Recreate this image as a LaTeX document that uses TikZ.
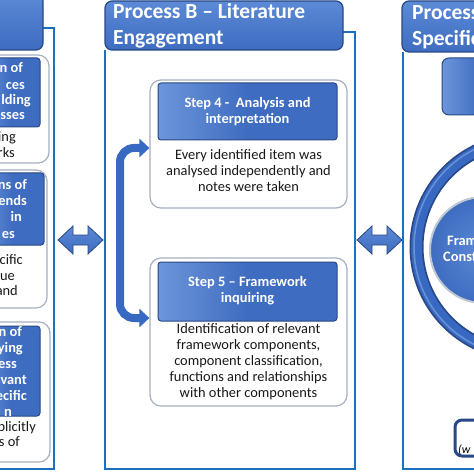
\documentclass[tikz,border=0pt]{standalone}
\usepackage{fontspec}
\setmainfont{Carlito}
\usetikzlibrary{arrows.meta,calc}
\definecolor{hblue}{RGB}{62,108,192}
\definecolor{hblueL}{RGB}{92,138,214}
\definecolor{hblueD}{RGB}{40,72,135}
\definecolor{frameblue}{RGB}{28,112,190}
\definecolor{boxgray}{RGB}{165,176,192}
\definecolor{ringblue}{RGB}{55,105,195}
\newcommand\DblArr[3]{%
  \draw[arrowshape] (#1,#3) -- ($(#1,#3)+(15,-14)$) -- ($(#1,#3)+(15,-5)$) -- ($(#2,#3)+(-15,-5)$) -- ($(#2,#3)+(-15,-14)$) -- (#2,#3) -- ($(#2,#3)+(-15,14)$) -- ($(#2,#3)+(-15,5)$) -- ($(#1,#3)+(15,5)$) -- ($(#1,#3)+(15,14)$) -- cycle;}
\begin{document}
\begin{tikzpicture}[x=1bp,y=-1bp,
  titlebox/.style={draw=hblueD, line width=1.2bp, rounded corners=7bp, top color=hblueL, bottom color=hblue},
  headbox/.style={draw=hblueD, line width=1bp, rounded corners=3bp, left color=hblueL!90!white, right color=hblue, middle color=hblue},
  stepbox/.style={draw=boxgray, line width=1.2bp, rounded corners=11bp, fill=white},
  frameline/.style={draw=frameblue, line width=2.8bp},
  arrowshape/.style={draw=hblueD, line width=0.8bp, top color=hblueL, bottom color=hblue},
  ttl/.style={font=\fontsize{21.5bp}{26bp}\selectfont\bfseries, text=white, align=left, inner sep=0pt},
  hd/.style={font=\fontsize{14.4bp}{16bp}\selectfont\bfseries, text=white, align=center, inner sep=0pt},
  bd/.style={font=\fontsize{14.4bp}{16bp}\selectfont, text=black!90, align=center, inner sep=0pt},
  hf/.style={font=\fontsize{14.4bp}{16bp}\selectfont\bfseries, text=white, inner sep=0pt, anchor=base east},
  bf/.style={font=\fontsize{14.4bp}{16bp}\selectfont, text=black!90, inner sep=0pt, anchor=base east},
  bracket/.style={draw=ringblue, line width=8bp, rounded corners=14bp, {Triangle[length=10bp,width=18bp]}-{Triangle[length=10bp,width=18bp]}}
]
\useasboundingbox (0,0) rectangle (474,474);
\clip (0,0) rectangle (474,474);
\fill[white] (0,0) rectangle (474,474);

% ---------------- left panel ----------------
\draw[frameline] (43,28) -- (54,28) -- (54,469) -- (-5,469);
\path[titlebox] (-20,-6) rectangle (43,50);
\path[stepbox] (-20,55) rectangle (49,163);
\path[headbox] (-20,58) rectangle (40,127);
\path[stepbox] (-20,170) rectangle (47,308);
\path[headbox] (-20,173) rectangle (44,245);
\path[stepbox] (-20,322) rectangle (50,462);
\path[headbox] (-20,326) rectangle (40,416);
\node[hf] (l1a) at (23,73) {n of};
\node[hf] (l1b) at (25,90) {ces};
\node[hf] (l1c) at (31,105) {lding};
\node[hf] (l1d) at (25,120) {sses};
\node[bf] (l1e) at (16,142) {ing};
\node[bf] (l1f) at (15,158) {rks};
\node[hf] (l2a) at (27,190) {ns of};
\node[hf] (l2b) at (27,206) {ends};
\node[hf] (l2c) at (22,222) {in};
\node[hf] (l2d) at (15,238) {es};
\node[bf] (l2e) at (23,264) {cific};
\node[bf] (l2f) at (15,280) {ue};
\node[bf] (l2g) at (18,295) {and};
\node[hf] (l3a) at (22,336) {n of};
\node[hf] (l3b) at (23,352) {ying};
\node[hf] (l3c) at (17,368) {ess};
\node[hf] (l3d) at (27,384) {vant};
\node[hf] (l3e) at (27,400) {ecific};
\node[hf] (l3f) at (12,416) {n};
\node[bf] (l3g) at (36,431) {plicitly};
\node[bf] (l3h) at (20,446) {s of};

% ---------------- middle panel ----------------
\draw[frameline] (343,32) -- (355,32) -- (355,469) -- (105,469) -- (105,50);
\path[titlebox] (105,1) rectangle (343,50);
\node[ttl, anchor=west] (tB) at (113,26) {Process B -- Literature\\Engagement};

\node[stepbox, minimum width=197bp, minimum height=128bp] (s4) at (248.5,144) {};
\node[headbox, minimum width=179bp, minimum height=57bp] (s4h) at (247.5,111.5) {};
\node[hd] (s4t) at (247.5,112) {Step 4 -~~Analysis and\\interpretation};
\node[bd] (s4b) at (248.5,171) {Every identified item was\\analysed independently and\\notes were taken};

\node[stepbox, minimum width=197bp, minimum height=148bp] (s5) at (248.5,332) {};
\node[headbox, minimum width=179bp, minimum height=59bp] (s5h) at (247.5,291.5) {};
\node[hd] (s5t) at (247.5,291) {Step 5 -- Framework\\inquiring};
\node[bd] (s5b) at (248.5,362) {Identification of relevant\\framework components,\\component classification,\\functions and relationships\\with other components};

\coordinate (b1) at (s4.west |- 0,148);
\coordinate (b2) at (s5.west |- 0,318);
\draw[bracket] (b1) -- (120,148) -- (120,318) -- (b2);

% double arrows between panels
\DblArr{58}{103}{240}
\DblArr{357}{402}{240}

% ---------------- right panel ----------------
\draw[frameline] (403,52) -- (403,469) -- (480,469);
\path[titlebox] (402,1) rectangle (520,52);
\node[ttl, anchor=west] (tC) at (412,27) {Process\\Specific};
\path[headbox, rounded corners=7bp] (442,58) rectangle (520,115);

\draw[hblueD, line width=14bp] (523,247) circle (106.5bp);
\draw[ringblue, line width=10.5bp] (523,247) circle (106.5bp);
\draw[hblueL!70!white, line width=1.5bp, opacity=0.6] (523,247) circle (109bp);

\node[circle, minimum size=106bp, inner sep=0pt, draw=boxgray!70!white, line width=2bp, inner color=hblueL, outer color=hblue] (fc) at (483,250) {};
\node[hf, anchor=base west] (fc1) at (447,245) {Fram};
\node[hf, anchor=base west] (fc2) at (443,261) {Const};

\path[draw=hblueD, line width=3bp, fill=white, rounded corners=7bp] (455,420) rectangle (520,456);
\node[font=\fontsize{12bp}{14bp}\selectfont\itshape, inner sep=0pt, anchor=base west] (pw) at (458,453) {(w};
\end{tikzpicture}
\end{document}
